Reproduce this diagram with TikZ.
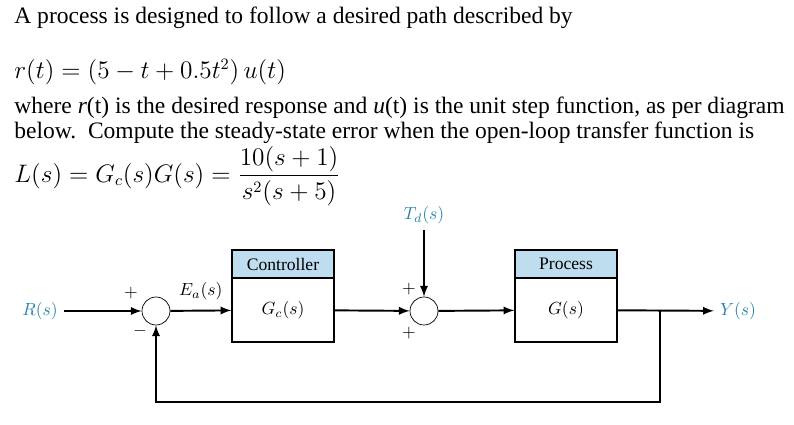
\documentclass[tikz,border=0pt]{standalone}
\usepackage{amsmath}
\usepackage{fontspec}
\setmainfont{Liberation Serif}
\usetikzlibrary{arrows,positioning}
\definecolor{sigblue}{RGB}{40,130,170}
\definecolor{headblue}{RGB}{190,222,240}
\begin{document}
\begin{tikzpicture}[x=0.02cm,y=-0.02cm,
    txt/.style={anchor=west,inner sep=0pt,font=\fontsize{13.4}{16}\selectfont},
    head/.style={draw,thick,fill=headblue,minimum width=2.04cm,minimum height=0.56cm,inner sep=0pt},
    block/.style={draw,thick,minimum width=2.04cm,minimum height=1.28cm,inner sep=0pt},
    sum/.style={draw,circle,minimum size=0.56cm,inner sep=0pt},
    sig/.style={text=sigblue},
    flow/.style={semithick,line width=1.1pt,-latex}]
  \useasboundingbox (0,0) rectangle (794,425);
  % problem text
  \node[txt] (l1) at (14,18) {A process is designed to follow a desired path described by};
  \node[txt] (l2) at (14,72) {$r(t)=\left(5-t+0.5t^{2}\right)u(t)$};
  \node[txt] (l3) at (14,108) {where \textit{r}(t) is the desired response and \textit{u}(t) is the unit step function, as per diagram};
  \node[txt] (l4) at (14,133) {below.\ \ Compute the steady-state error when the open-loop transfer function is};
  \node[txt] (l5) at (14,176) {$L(s)=G_c(s)G(s)=\dfrac{10(s+1)}{s^{2}(s+5)}$};
  % block diagram
  \node[sum] (s1) at (156,311) {};
  \node[sum] (s2) at (424,311) {};
  \node[head] (ch) at (283,264) {Controller};
  \node[block] (gc) at (283,310) {$G_c(s)$};
  \node[head] (ph) at (566,264) {Process};
  \node[block] (gp) at (566,310) {$G(s)$};
  \node[sig] (r) at (40,311) {$R(s)$};
  \node[sig] (y) at (738,311) {$Y(s)$};
  \node[sig] (td) at (424,215) {$T_d(s)$};
  \coordinate (br) at (660,311);
  \draw[flow] (r) -- (s1);
  \draw[flow] (s1) -- node[above=2pt] {$E_a(s)$} (gc);
  \draw[flow] (gc) -- (s2);
  \draw[flow] (s2) -- (gp);
  \draw[flow] (gp) -- (y);
  \draw[flow] (td) -- (s2);
  \draw[flow] (br) -- (660,402) -| (s1);
  % signs
  \node at (131,293) {$+$};
  \node at (140,331) {$-$};
  \node at (409,289) {$+$};
  \node at (409,333) {$+$};
\end{tikzpicture}
\end{document}
